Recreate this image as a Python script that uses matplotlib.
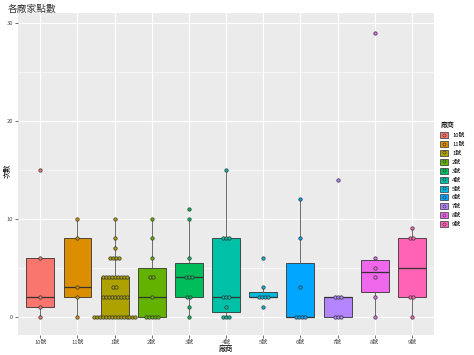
import matplotlib
matplotlib.use("Agg")
import matplotlib.pyplot as plt
from matplotlib.patches import Patch
from matplotlib.lines import Line2D
import numpy as np

plt.rcParams['font.family'] = ['Noto Sans CJK TC', 'DejaVu Sans']

# groups in ggplot's (string) order
groups = ['10號', '11號', '1號', '2號', '3號', '4號', '5號', '6號', '7號', '8號', '9號']
colors = ['#F8766D', '#DB8E00', '#AEA200', '#64B200', '#00BD5C', '#00C1A7',
          '#00BADE', '#00A6FF', '#B385FF', '#EF67EB', '#FF63B6']

g10 = [0, 1, 2, 6, 15]
g11 = [0, 2, 3, 8, 10]
g1 = [0] * 15 + [2] * 9 + [3] * 2 + [4] * 9 + [6] * 4 + [7, 8, 10]
g2 = [0] * 5 + [2, 4, 4, 6, 8, 10]
g3 = [0, 1, 2, 2, 4, 4, 4, 6, 10, 11]
g4 = [0, 0, 0, 1, 2, 2, 2, 8, 8, 8, 15]
g5 = [1, 2, 2, 2, 2, 3, 6]
g6 = [0, 0, 0, 0, 3, 8, 12]
g7 = [0, 0, 0, 2, 2, 2, 14]
g8 = [0, 2, 4, 5, 6, 29]
g9 = [0, 2, 2, 8, 8, 9]
data = [g10, g11, g1, g2, g3, g4, g5, g6, g7, g8, g9]

fig = plt.figure(figsize=(4.74, 3.55), dpi=100)
ax = fig.add_axes([0.038, 0.056, 0.878, 0.907])
ax.set_facecolor('#EBEBEB')
for s in ax.spines.values():
    s.set_visible(False)

pos = np.arange(len(groups))
bp = ax.boxplot(data, positions=pos, widths=0.75, patch_artist=True,
                showfliers=False, zorder=3,
                medianprops=dict(color='#333333', linewidth=0.9),
                whiskerprops=dict(color='#555555', linewidth=0.6),
                capprops=dict(linewidth=0),
                boxprops=dict(edgecolor='#333333', linewidth=0.6))
for box, c in zip(bp['boxes'], colors):
    box.set_facecolor(c)

# centred dot stacks
d = 0.08
for i, (vals, c) in enumerate(zip(data, colors)):
    u, cnt = np.unique(vals, return_counts=True)
    for v, k in zip(u, cnt):
        xs = i + (np.arange(k) - (k - 1) / 2) * d
        ax.scatter(xs, [v] * k, s=6, facecolor=c, edgecolor='#333333',
                   linewidths=0.5, zorder=4)

ax.set_xlim(-0.6, 10.6)
ax.set_ylim(-1.9, 31.0)
ax.set_xticks(pos)
ax.set_xticklabels(groups)
ax.set_yticks([0, 10, 20, 30])
ax.set_yticks([5, 15, 25], minor=True)
ax.grid(True, which='major', color='white', linewidth=0.8, zorder=0)
ax.grid(True, which='minor', axis='y', color='white', linewidth=0.4, zorder=0)
ax.set_axisbelow(True)
ax.tick_params(which='major', length=2, width=0.5, color='#333333',
               labelsize=4.2, labelcolor='#4D4D4D', pad=1.5)
ax.tick_params(which='minor', length=0)

fig.text(0.477, 0.016, '廠商', fontsize=5.2, ha='center', va='center')
fig.text(0.014, 0.52, '次數', fontsize=5.2, rotation=90, va='center',
         ha='center')
fig.text(0.017, 0.975, '各廠家點數', fontsize=7, va='center', ha='left',
         color='#333333')

handles = [(Patch(facecolor=c, edgecolor='#333333', linewidth=0.5),
            Line2D([], [], marker='o', linestyle='none', markersize=2.2,
                   markerfacecolor=c, markeredgecolor='#333333',
                   markeredgewidth=0.4)) for c in colors]
leg = fig.legend(handles, groups, title='廠商', loc='upper left',
                 bbox_to_anchor=(0.924, 0.665), frameon=False,
                 fontsize=4.2, title_fontsize=5, handlelength=1.4,
                 handleheight=1.2, labelspacing=0.5, handletextpad=0.6,
                 borderaxespad=0)
leg._legend_box.align = 'left'

fig.savefig('out.png', dpi=100)
